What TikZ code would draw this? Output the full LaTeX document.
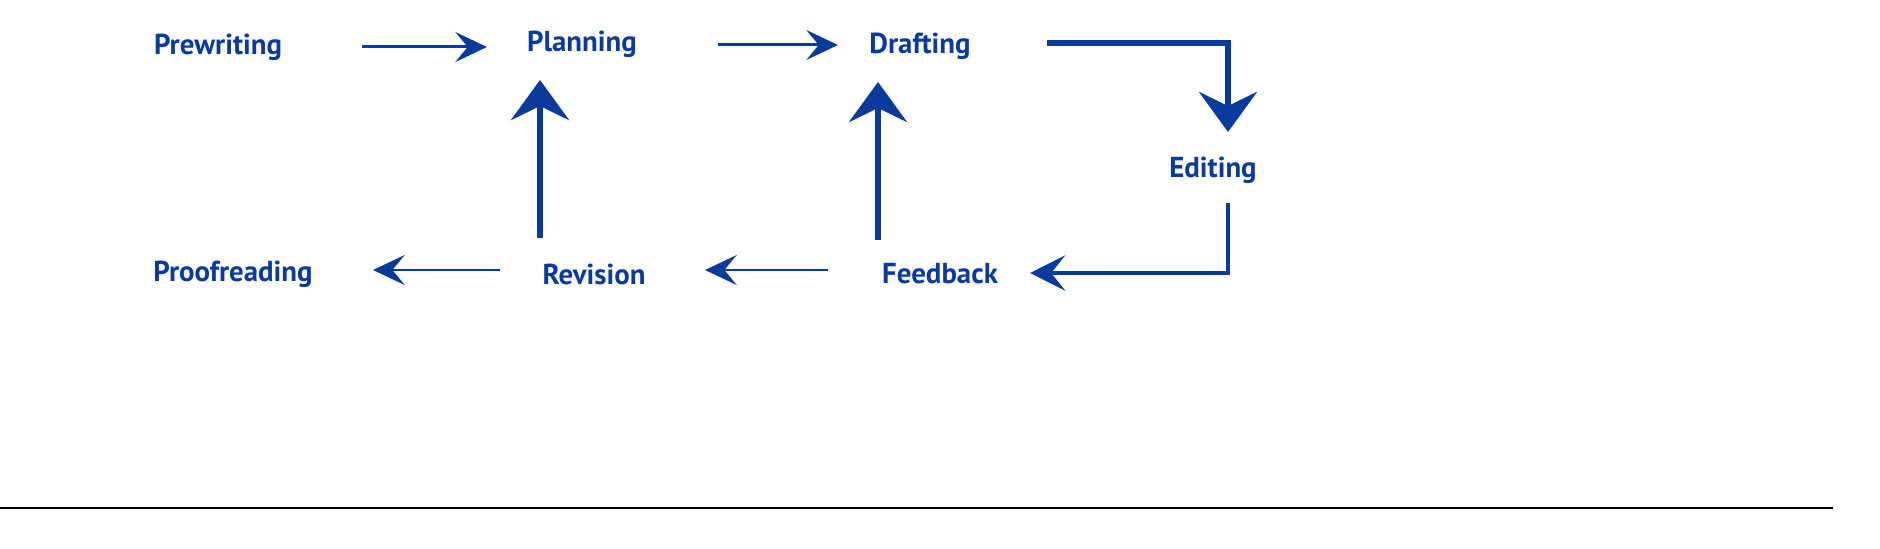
\documentclass[tikz,border=0pt]{standalone}
\usepackage{fontspec}
\setmainfont{PT Sans}
\usetikzlibrary{arrows.meta}
\definecolor{bl}{HTML}{0A3A9C}
\begin{document}
\begin{tikzpicture}[x=0.01cm,y=-0.01cm,
  lbl/.style={text=bl,font=\bfseries\fontsize{8.2}{10}\selectfont,inner sep=0pt},
  thin/.style={draw=bl,line width=0.85pt,-{Stealth[length=9pt,width=8.5pt,inset=3.5pt]}},
  thick/.style={draw=bl,line width=1.56pt,-{Stealth[length=11.4pt,width=16.5pt,inset=4pt]}},
  mid/.style={draw=bl,line width=1.4pt,-{Stealth[length=10pt,width=10pt,inset=4pt]}}]
\useasboundingbox (0,0) rectangle (1880,549);
\node[lbl] (pre) at (218,47) {Prewriting};
\node[lbl] (pla) at (582,44) {Planning};
\node[lbl] (dra) at (920,46) {Drafting};
\node[lbl] (edi) at (1213,170) {Editing};
\node[lbl] (fee) at (940,274) {Feedback};
\node[lbl] (rev) at (594,274) {Revision};
\node[lbl] (pro) at (233,274) {Proofreading};
\draw[thin] (362,47) -- (487,47);
\draw[thin] (718,45) -- (838,45);
\draw[thick] (1047,43) -| (1228,132);
\draw[mid] (1228,203) |- (1030,273);
\draw[thin] (828,270) -- (705,270);
\draw[thin] (500,270) -- (373,270);
\draw[thick] (540,238) -- (540,80);
\draw[thick] (878,240) -- (878,82);
\draw[line width=0.43pt] (0,508) -- (1833,508);
\end{tikzpicture}
\end{document}
